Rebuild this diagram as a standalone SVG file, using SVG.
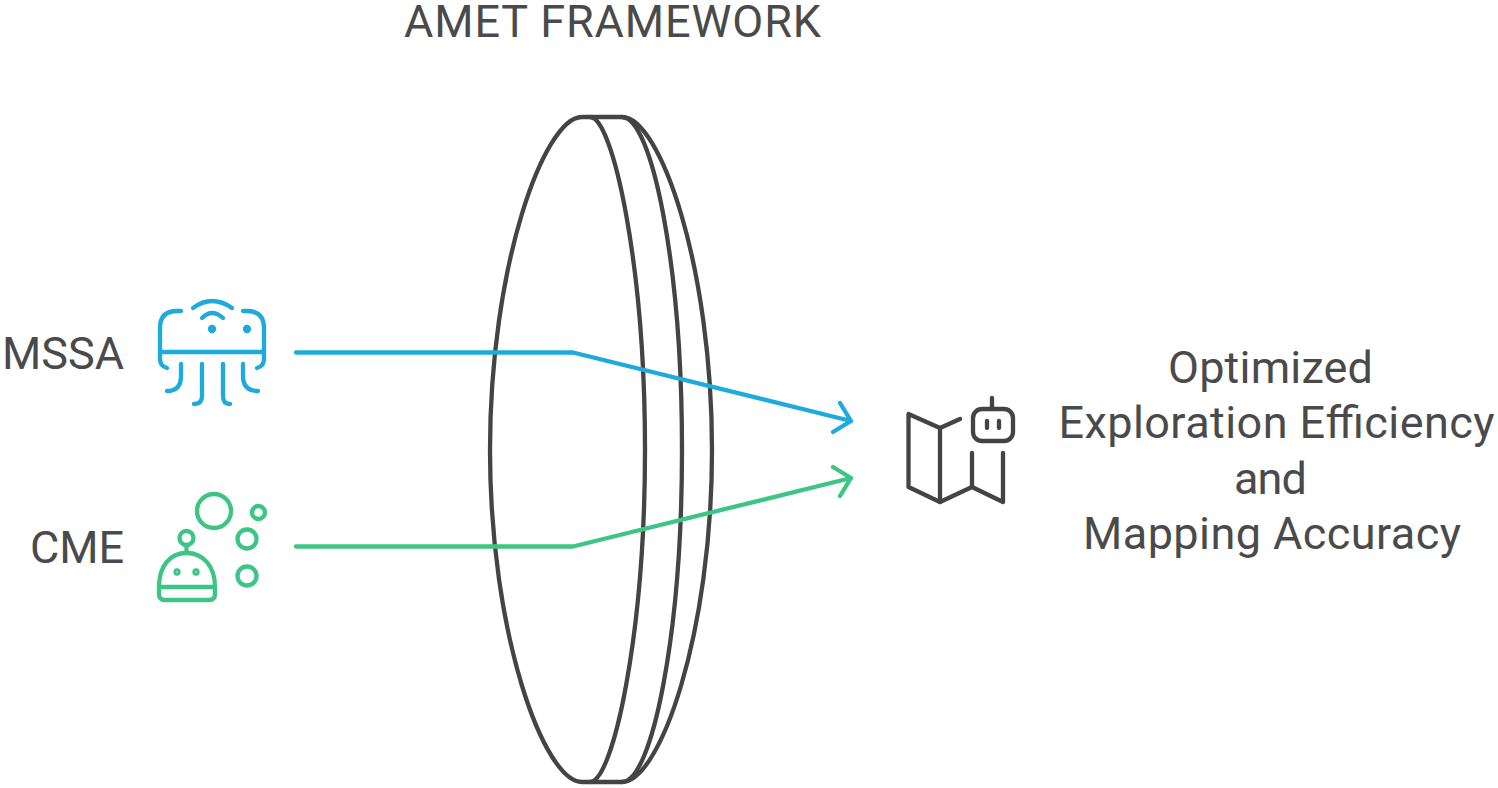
<svg xmlns="http://www.w3.org/2000/svg" width="1498" height="788" viewBox="0 0 1498 788">
<style>
text{font-family:Roboto,"Liberation Sans",sans-serif;font-size:45px;font-weight:400;fill:#4a4a4a;text-anchor:middle}
.s{fill:none;stroke-width:4.300;stroke-linecap:round;stroke-linejoin:round}
.g{stroke:#444}.b{stroke:#1eaadc}.n{stroke:#3cc583}
.c{stroke-width:4.300;fill:none;stroke-linecap:round;stroke-linejoin:round}
</style>
<rect width="1498" height="788" fill="#fff"/>
<g id="title"><text x="612.500" y="37" textLength="417" lengthAdjust="spacing">AMET FRAMEWORK</text></g>
<g id="lens" class="s g">
<path d="M582 117C544 117 490 266 490 450S544 782 582 782H622C660 782 712 634 712 450S660 117 622 117Z"/>
<path d="M590 117C613 117 645 266 645 450S613 782 590 782"/>
<path d="M622 117C652 117 682 266 682 450S652 782 622 782"/>
</g>
<g id="connectors" class="c">
<path class="b" d="M296 352.500H573L851 421M840 403L851 421L833 432"/>
<path class="n" d="M296 546.500H573L851 478M833 467L851 478L840 496"/>
</g>
<g id="mssa"><text x="63" y="369" textLength="122" lengthAdjust="spacing">MSSA</text>
<g class="s b">
<path d="M181 311H177Q160 311 160 328V359Q160 366 167 368"/>
<path d="M243 311H247Q264 311 264 328V359Q264 366 257 368"/>
<path d="M160 352H264"/>
<path d="M193 308Q212 294 232 308"/>
<path d="M202 318Q212 308 223 318"/>
<path d="M181 364V376Q181 391 167 391"/>
<path d="M243 364V376Q243 391 258 391"/>
<path d="M202 364V396Q202 404 194 404"/>
<path d="M223 364V396Q223 404 230 404"/>
<circle cx="212" cy="329" r="2"/><circle cx="247" cy="329" r="2"/>
</g></g>
<g id="cme"><text x="77" y="563" textLength="94" lengthAdjust="spacing">CME</text>
<g class="s n">
<circle cx="214" cy="511" r="17"/><circle cx="258.500" cy="512.500" r="6.500"/><circle cx="247" cy="539" r="9.500"/><circle cx="247" cy="576" r="9.500"/><circle cx="186.500" cy="538" r="7"/>
<path d="M186.500 545V553"/>
<path d="M159 587C159 566 170 553 186.500 553S215 566 215 587V594Q215 600 209 600H165Q159 600 159 594Z"/>
<path d="M159 587H215"/>
<circle cx="177" cy="572" r="1.500"/><circle cx="196" cy="572" r="1.500"/>
</g></g>
<g id="result">
<g class="s g">
<path d="M960 419L940 428L908.500 414V487L940 502L972 487L1003 502V453"/>
<path d="M940 428V502M972 487V453"/>
<rect x="973" y="409" width="40" height="32" rx="9"/>
<path d="M992 409V398M987 421V428M999 421V428"/>
</g>
<text x="1270.500" y="383" textLength="205" lengthAdjust="spacing">Optimized</text>
<text x="1276.500" y="438" textLength="436" lengthAdjust="spacing">Exploration Efficiency</text>
<text x="1270.500" y="494" textLength="73" lengthAdjust="spacing">and</text>
<text x="1272" y="549" textLength="378" lengthAdjust="spacing">Mapping Accuracy</text>
</g>
</svg>
